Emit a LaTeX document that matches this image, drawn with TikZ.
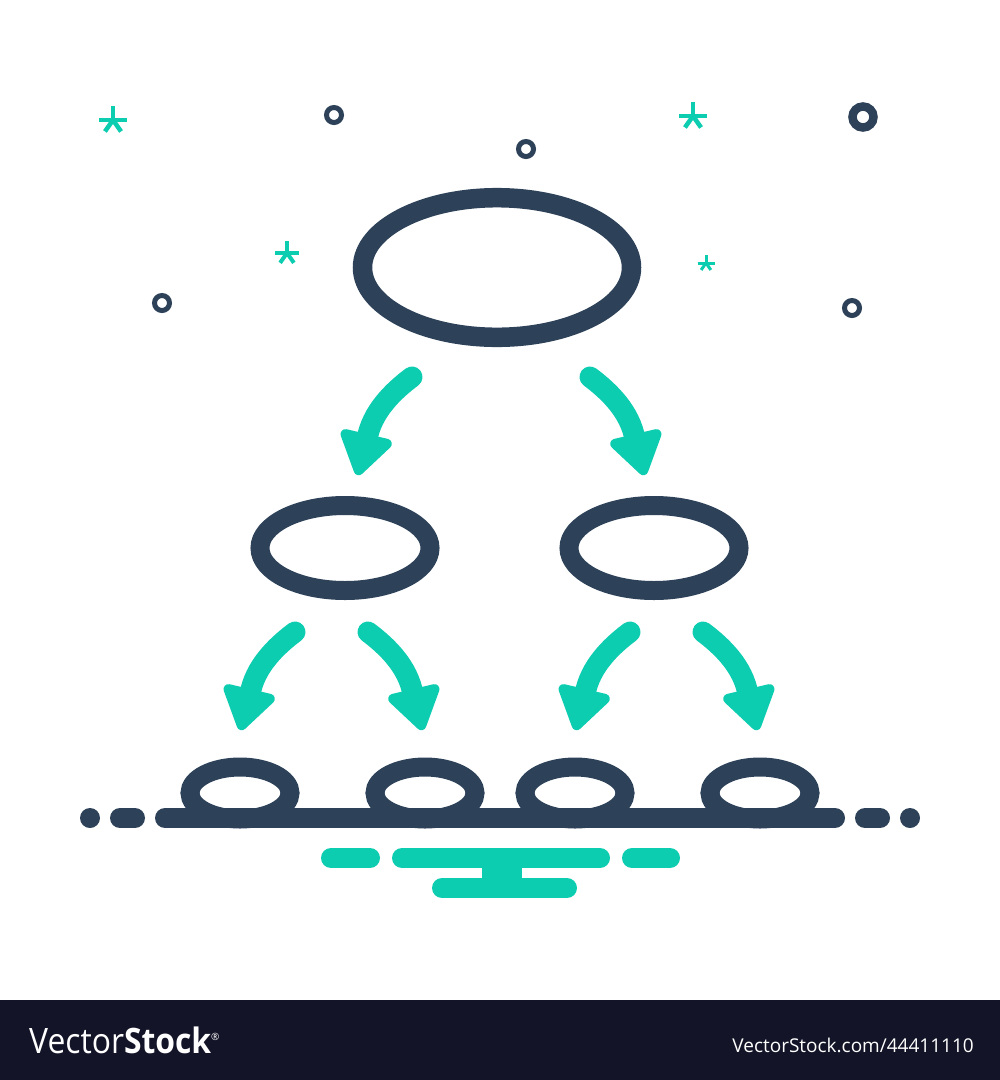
\documentclass[tikz,border=0pt]{standalone}
\usepackage{fontspec}
\setmainfont{Open Sans}
\definecolor{navy}{RGB}{45,65,88}
\definecolor{tealc}{RGB}{13,205,177}
\definecolor{bannerc}{RGB}{19,20,40}
\newcommand\drawaster[4]{%
  \begin{scope}[shift={(#1,#2)}]
    \draw[tealc, line width=#4] (0,0) -- (0,-#3);
    \draw[tealc, line width=#4] (-#3,0) -- (#3,0);
    \draw[tealc, line width=#4] (0,0) -- ({0.574*#3},{0.819*#3});
    \draw[tealc, line width=#4] (0,0) -- ({-0.574*#3},{0.819*#3});
  \end{scope}}
\begin{document}
\begin{tikzpicture}[x=1pt,y=-1pt,
  oval/.style={draw=navy, line width=#1},
  ringdot/.style={draw=navy, line width=#1},
  bar/.style={draw=navy, line width=20, line cap=round},
  tbar/.style={draw=tealc, line width=20, line cap=round},
  curvarrow/.pic={
    \draw[tealc, line width=21, line cap=round] (0,0) .. controls (-20,15) and (-40,35) .. (-45,62);
    \filldraw[tealc, line width=10, line join=round] (-66.5,57.1) -- (-25.2,66.8) -- (-53.3,93.2) -- cycle;
  }]
\useasboundingbox (0,0) rectangle (1000,1080);
\fill[white] (0,0) rectangle (1000,1000);
\fill[bannerc] (0,1000) rectangle (1000,1080);

% ovals
\draw[oval=19.5] (497,267.5) ellipse [x radius=134.5, y radius=69.8];
\draw[oval=19] (345,548) ellipse [x radius=85, y radius=42.5];
\draw[oval=19] (654,548) ellipse [x radius=85, y radius=42.5];
\foreach \cx in {240,425,575,760}
  \draw[oval=19] (\cx,793) ellipse [x radius=50, y radius=26];

% base line
\draw[bar] (165,818) -- (835,818);
\draw[bar] (120,818) -- (135,818);
\draw[bar] (865,818) -- (880,818);
\fill[navy] (90,818) circle [radius=10];
\fill[navy] (910,818) circle [radius=10];

% teal base lines
\draw[tbar] (331,858) -- (370,858);
\draw[tbar] (402,858) -- (600,858);
\draw[tbar] (632,858) -- (670,858);
\draw[tbar] (442,888) -- (567,888);
\fill[tealc] (482,858) rectangle (522,888);

% arrows
\pic at (412,377) {curvarrow};
\pic[xscale=-1] at (590,377) {curvarrow};
\pic at (295,632) {curvarrow};
\pic[xscale=-1] at (368,632) {curvarrow};
\pic at (630,632) {curvarrow};
\pic[xscale=-1] at (703,632) {curvarrow};

% decorations
\draw[ringdot=5] (334,115) circle [radius=7.5];
\draw[ringdot=5] (526,149) circle [radius=7.5];
\draw[ringdot=5] (162,303) circle [radius=7.5];
\draw[ringdot=5] (852,308) circle [radius=7.5];
\draw[ringdot=8.5] (863,117) circle [radius=10.5];
\drawaster{113}{120}{14}{4.5}
\drawaster{693}{116}{14}{4.5}
\drawaster{287}{253}{12}{4}
\drawaster{706}{263}{8.5}{3}

% banner text
\node[anchor=base west, text=white, inner sep=0, font=\fontsize{35}{35}\selectfont] (logo) at (29,1053)
  {\scalebox{0.91}[1]{Vector\textbf{Stock}}\raisebox{13pt}{\fontsize{10}{10}\selectfont ®}};
\node[anchor=base east, text=white, inner sep=0, font=\fontsize{19}{19}\selectfont] (url) at (974,1052)
  {VectorStock.com/44411110};
\end{tikzpicture}
\end{document}
